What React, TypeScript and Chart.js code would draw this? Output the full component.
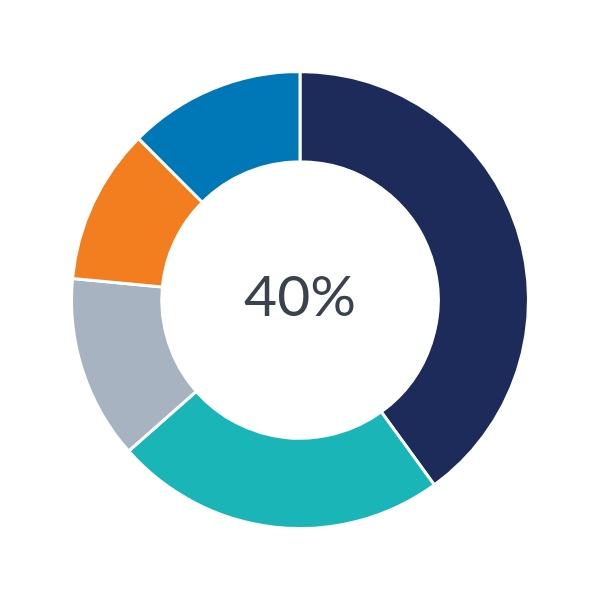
import { useEffect, useRef } from "react"
import { Chart, registerables } from "chart.js"

Chart.register(...registerables)

const labels = ["Navy", "Teal", "Gray", "Orange", "Blue"]
const values = [40, 23.5, 13, 11, 12.5]
const colors = ["#1c2b5a", "#1ab5b7", "#a8b3c2", "#f27e20", "#0077b6"]
const centerLabel = "40%"

// draws the big percentage in the hole
const centerText = {
  id: "centerText",
  afterDraw(chart: any) {
    const { ctx, chartArea } = chart
    const x = (chartArea.left + chartArea.right) / 2
    const y = (chartArea.top + chartArea.bottom) / 2
    ctx.save()
    ctx.font = "400 57px Lato"
    ctx.fillStyle = "#3a424d"
    ctx.textAlign = "center"
    ctx.textBaseline = "middle"
    ctx.fillText(centerLabel, x, y - 2)
    ctx.restore()
  },
}

export default function App() {
  const chartRef = useRef<HTMLCanvasElement>(null)
  const chartInstance = useRef<Chart | null>(null)

  useEffect(() => {
    document.body.style.margin = "0"
    if (chartRef.current) {
      if (chartInstance.current) {
        chartInstance.current.destroy()
      }

      chartInstance.current = new Chart(chartRef.current, {
        type: "doughnut",
        data: {
          labels,
          datasets: [
            {
              data: values,
              backgroundColor: colors,
              borderColor: "#ffffff",
              borderWidth: 3,
            },
          ],
        },
        options: {
          responsive: true,
          maintainAspectRatio: false,
          animation: false,
          cutout: "60.5%",
          layout: { padding: 70 },
          plugins: {
            legend: { display: false },
            tooltip: { enabled: false },
          },
        },
        plugins: [centerText],
      })
    }

    return () => {
      if (chartInstance.current) {
        chartInstance.current.destroy()
        chartInstance.current = null
      }
    }
  }, [])

  return (
    <div style={{ width: 600, height: 600, position: "relative" }}>
      <canvas ref={chartRef} />
    </div>
  )
}
